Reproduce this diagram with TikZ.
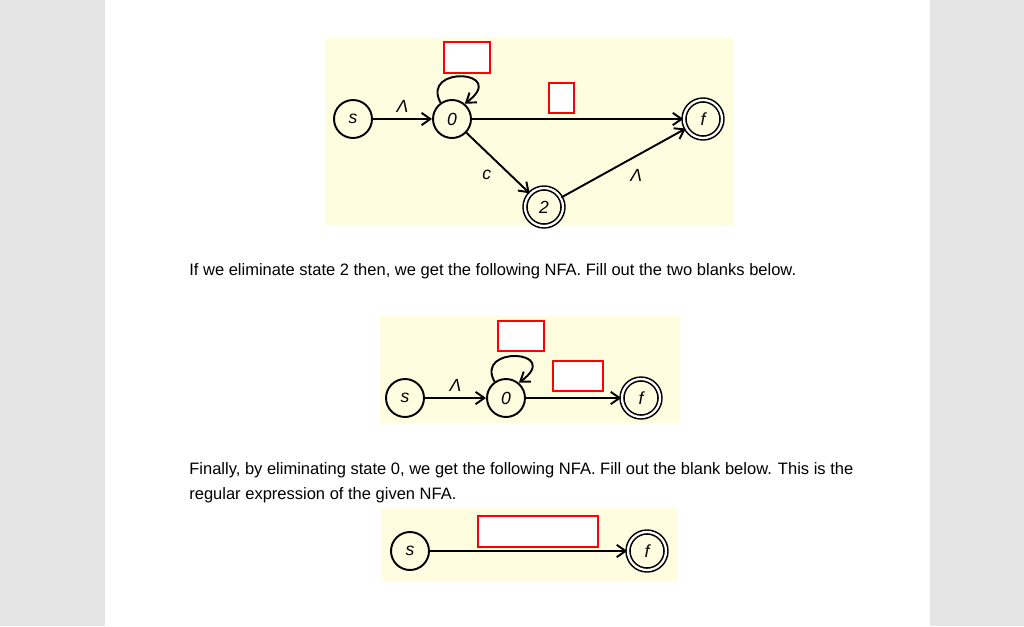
\documentclass[tikz,border=0pt]{standalone}
\usepackage{fontspec}
\setmainfont{Liberation Sans}
\usetikzlibrary{arrows.meta}
\begin{document}
\begin{tikzpicture}[x=0.02cm,y=-0.02cm,
  st/.style={circle,draw,line width=1.1pt,minimum size=0.76cm,inner sep=0pt,font=\fontsize{10}{11}\selectfont\itshape},
  acc/.style={st,double,double distance=1.3pt,line width=0.9pt},
  ed/.style={line width=1.1pt,-{Straight Barb[length=5pt,width=7pt]}},
  lb/.style={font=\fontsize{10}{11}\selectfont\itshape},
  blank/.style={draw=red,thick,fill=white},
  panel/.style={fill=yellow!12!white,draw=none},
  txt/.style={anchor=west,inner sep=0pt,font=\fontsize{9.4}{12}\selectfont}]
\fill[gray!20] (0,0) rectangle (1024,626);
\fill[white] (105,0) rectangle (930,626);
\useasboundingbox (0,0) rectangle (1024,626);
% panel 1
\fill[panel] (325,38) rectangle (733,226);
\node[st] (s1) at (353,119) {s};
\node[st] (z1) at (452,119) {0};
\node[acc] (f1) at (703,119) {f};
\node[acc] (t1) at (544,207) {2};
\draw[ed] (s1) -- node[lb,above]{Λ} (z1);
\draw[ed] (z1) -- (f1);
\draw[ed] (z1) -- node[lb,below left]{c} (t1);
\draw[ed] (t1) -- node[lb,below right]{Λ} (f1);
\draw[ed] (z1.125) .. controls (420,65) and (510,70) .. (z1.50);
\draw[blank] (444,42) rectangle (490,73);
\draw[blank] (549,83) rectangle (574,113);
\node[txt] (t1a) at (189,271) {If we eliminate state 2 then, we get the following NFA. Fill out the two blanks below.};
% panel 2
\fill[panel] (380,316) rectangle (680,423);
\node[st] (s2) at (405,398) {s};
\node[st] (z2) at (506,398) {0};
\node[acc] (f2) at (641,398) {f};
\draw[ed] (s2) -- node[lb,above]{Λ} (z2);
\draw[ed] (z2) -- (f2);
\draw[ed] (z2.125) .. controls (474,345) and (564,350) .. (z2.50);
\draw[blank] (498,321) rectangle (544,351);
\draw[blank] (553,361) rectangle (603,391);
\node[txt] (t2a) at (189,470) {Finally, by eliminating state 0, we get the following NFA. Fill out the blank below. This is the};
\node[txt] (t2b) at (189,495) {regular expression of the given NFA.};
% panel 3
\fill[panel] (381,508) rectangle (678,582);
\node[st] (s3) at (410,551) {s};
\node[acc] (f3) at (647,551) {f};
\draw[ed] (s3) -- (f3);
\draw[blank] (478,516) rectangle (598,547);
\end{tikzpicture}
\end{document}
